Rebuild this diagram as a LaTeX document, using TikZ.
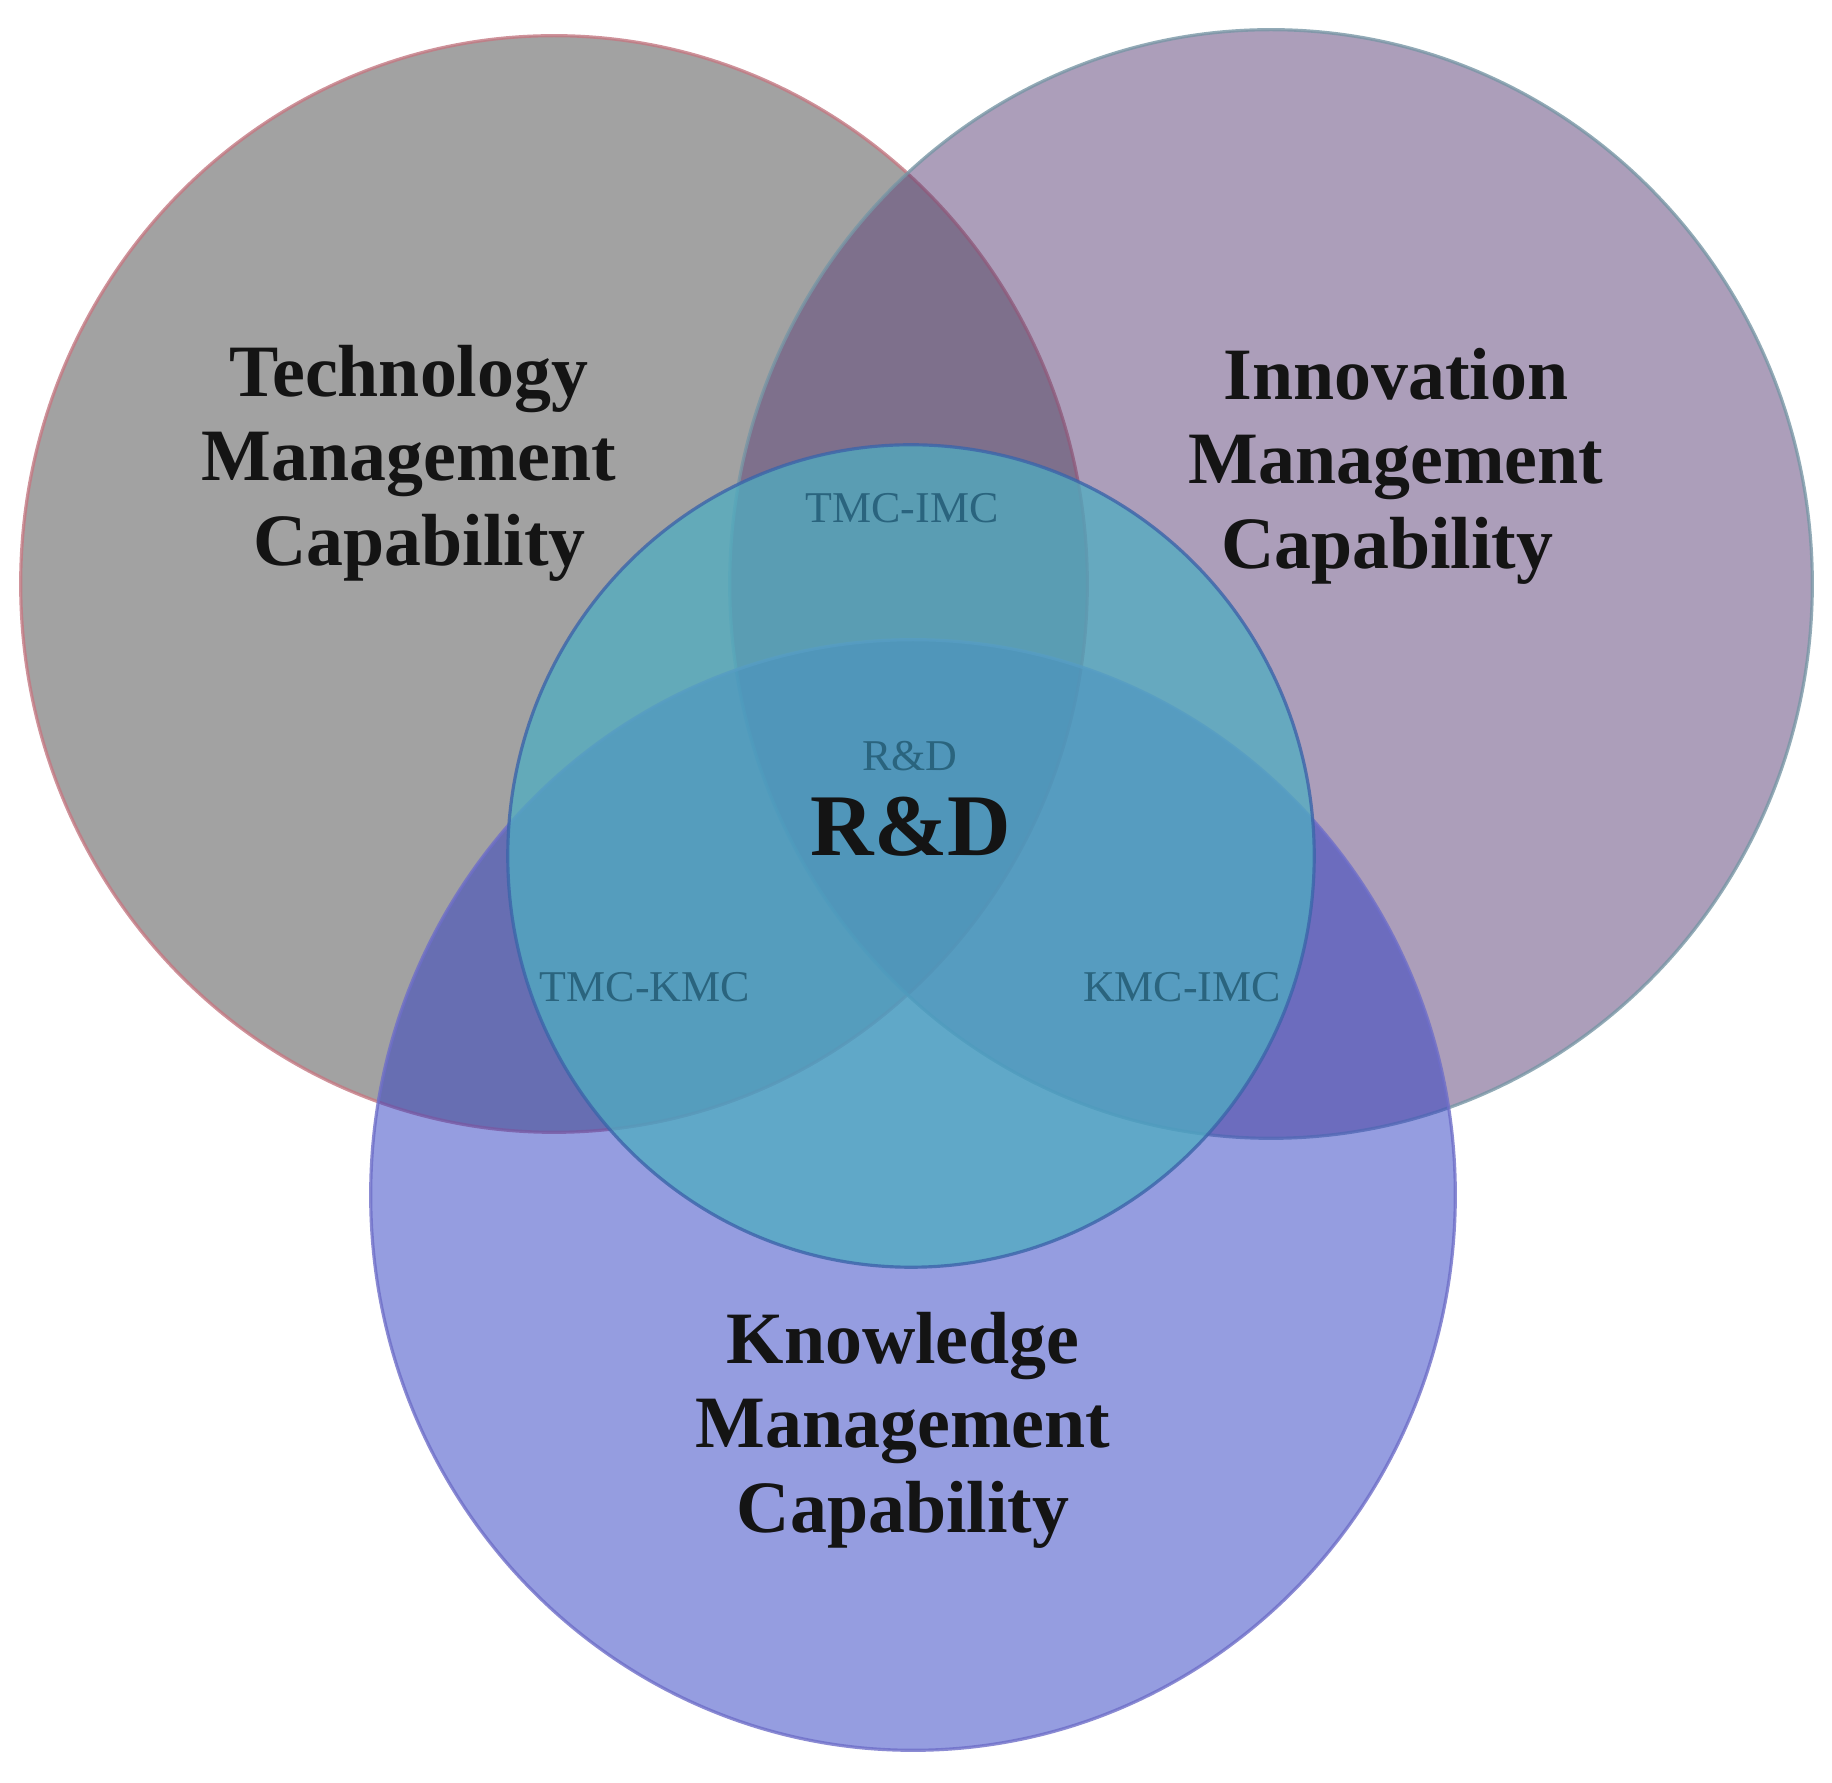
\documentclass[tikz,border=0pt]{standalone}
\usepackage{fontspec}
\setmainfont{Liberation Serif}

\definecolor{tmcfill}{RGB}{70,70,70}
\definecolor{tmcrim}{RGB}{196,120,130}
\definecolor{imcfill}{RGB}{91,63,119}
\definecolor{imcrim}{RGB}{120,150,165}
\definecolor{kmcfill}{RGB}{45,60,195}
\definecolor{kmcrim}{RGB}{110,110,200}
\definecolor{rdfill}{RGB}{79,173,193}
\definecolor{rdrim}{RGB}{60,100,170}
\definecolor{pairtext}{RGB}{42,100,126}

\begin{document}
\begin{tikzpicture}[
  x=0.01cm, y=-0.01cm,
  lobe/.style 2 args={fill=#1, draw=#2, fill opacity=0.5, draw opacity=0.8, line width=0.9pt},
  core/.style={fill=rdfill, draw=rdrim, fill opacity=0.75, draw opacity=0.8, line width=0.9pt},
  capa/.style={font=\fontsize{21}{24}\selectfont\bfseries, align=center, text=black!92, inner sep=0pt},
  pair/.style={font=\fontsize{12.5}{14}\selectfont, text=pairtext, inner sep=0pt, anchor=base},
]
\path[use as bounding box, fill=white] (0,0) rectangle (1832,1783);

% ---- Kreise
\path[lobe={tmcfill}{tmcrim}] (554,584) ellipse [x radius=5.33cm, y radius=5.48cm];
\path[lobe={imcfill}{imcrim}] (1271,584) ellipse [x radius=5.41cm, y radius=5.54cm];
\path[lobe={kmcfill}{kmcrim}] (913,1195) ellipse [x radius=5.42cm, y radius=5.55cm];
\path[core] (911,856) ellipse [x radius=4.03cm, y radius=4.11cm];

% ---- Beschriftungen
\node[capa] (tmc) at (409,463) {Technology\\ Management\\ \hspace*{6pt}Capability};
\node[capa] (imc) at (1396,466) {Innovation\\ Management\\ Capability\hspace*{5pt}};
\node[capa] (kmc) at (903,1430) {Knowledge\\ Management\\ Capability};

\node[pair] (tmcimc) at (902,523) {TMC-IMC};
\node[pair] (tmckmc) at (645,1002) {TMC-KMC};
\node[pair] (kmcimc) at (1182,1002) {KMC-IMC};
\node[pair] (rdsmall) at (910,771) {R\&D};
\node[font=\fontsize{25}{28}\selectfont\bfseries, text=black!92, inner sep=0pt, anchor=base] (rd) at (911,856) {R\&D};
\end{tikzpicture}
\end{document}
